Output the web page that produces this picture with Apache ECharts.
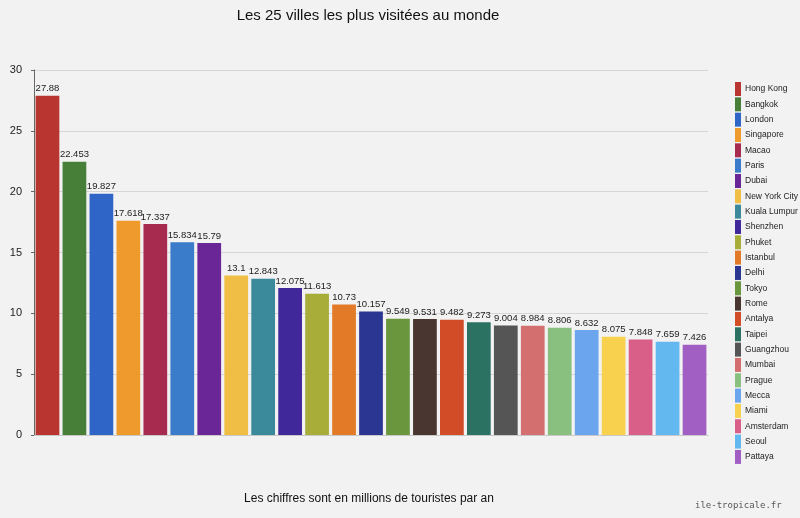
<!DOCTYPE html>
<html><head><meta charset="utf-8">
<script src="https://cdn.jsdelivr.net/npm/echarts@6/dist/echarts.min.js"></script>
<style>html,body{margin:0;padding:0;background:#f2f2f2}#c{width:800px;height:518px}</style>
</head><body><div id="c"></div>
<script>
const cities = ["Hong Kong","Bangkok","London","Singapore","Macao","Paris","Dubai","New York City","Kuala Lumpur","Shenzhen","Phuket","Istanbul","Delhi","Tokyo","Rome","Antalya","Taipei","Guangzhou","Mumbai","Prague","Mecca","Miami","Amsterdam","Seoul","Pattaya"];
const visitors = [27.88,22.453,19.827,17.618,17.337,15.834,15.79,13.1,12.843,12.075,11.613,10.73,10.157,9.549,9.531,9.482,9.273,9.004,8.984,8.806,8.632,8.075,7.848,7.659,7.426];
const colors = ["#b8362f","#477f39","#3065c8","#ef9a2c","#a72a4f","#3a7cc9","#6a2597","#f0be45","#3a8a9b","#40279a","#a8ad39","#e37a27","#2b3592","#6a963e","#4a3630","#d24c27","#2b7262","#555555","#d3706f","#89c07f","#6aa5ee","#f8d24f","#da5f88","#63b8f0","#a15ec3"];
const yTicks = {min:0, max:30, interval:5};

const series = cities.map((c,i)=>({
  name:c, type:'bar', stack:'s',
  data: cities.map((_,j)=> j===i ? visitors[i] : '-'),
  itemStyle:{color:colors[i]},
  label:{show:true, position:'top', color:'#222', fontSize:9.5, fontFamily:'Liberation Sans', distance:2},
  barCategoryGap:'12%'
}));

const chart = echarts.init(document.getElementById('c'));
chart.setOption({
  backgroundColor:'#f2f2f2',
  animation:false,
  title:[
    {text:'Les 25 villes les plus visitées au monde', left:363, top:3, textAlign:'center',
     textStyle:{fontSize:15, fontWeight:'normal', color:'#111', fontFamily:'Liberation Sans'}},
    {text:'Les chiffres sont en millions de touristes par an', left:364, top:488, textAlign:'center',
     textStyle:{fontSize:12, fontWeight:'normal', color:'#111', fontFamily:'Liberation Sans'}},
    {text:'ile-tropicale.fr', left:690, top:496,
     textStyle:{fontSize:9, fontWeight:'normal', color:'#555', fontFamily:'DejaVu Sans Mono'}}
  ],
  legend:{
    orient:'vertical', left:730, top:77,
    itemWidth:6, itemHeight:14, itemGap:1.33,
    icon:'rect',
    textStyle:{fontSize:8.5, color:'#222', fontFamily:'Liberation Sans', padding:[0,0,0,-1]},
    data:cities
  },
  grid:{left:34, right:92, top:70, bottom:83},
  xAxis:{type:'category', data:cities,
    axisLabel:{show:false}, axisTick:{show:false},
    axisLine:{lineStyle:{color:'#c8c8c8'}}},
  yAxis:{type:'value', min:yTicks.min, max:yTicks.max, interval:yTicks.interval,
    axisLine:{show:true, lineStyle:{color:'#666'}},
    axisTick:{show:true, length:3, lineStyle:{color:'#666'}},
    axisLabel:{fontSize:11, color:'#222', fontFamily:'Liberation Sans', margin:12},
    splitLine:{lineStyle:{color:'#d6d6d6'}}},
  series:series
});
</script></body></html>
